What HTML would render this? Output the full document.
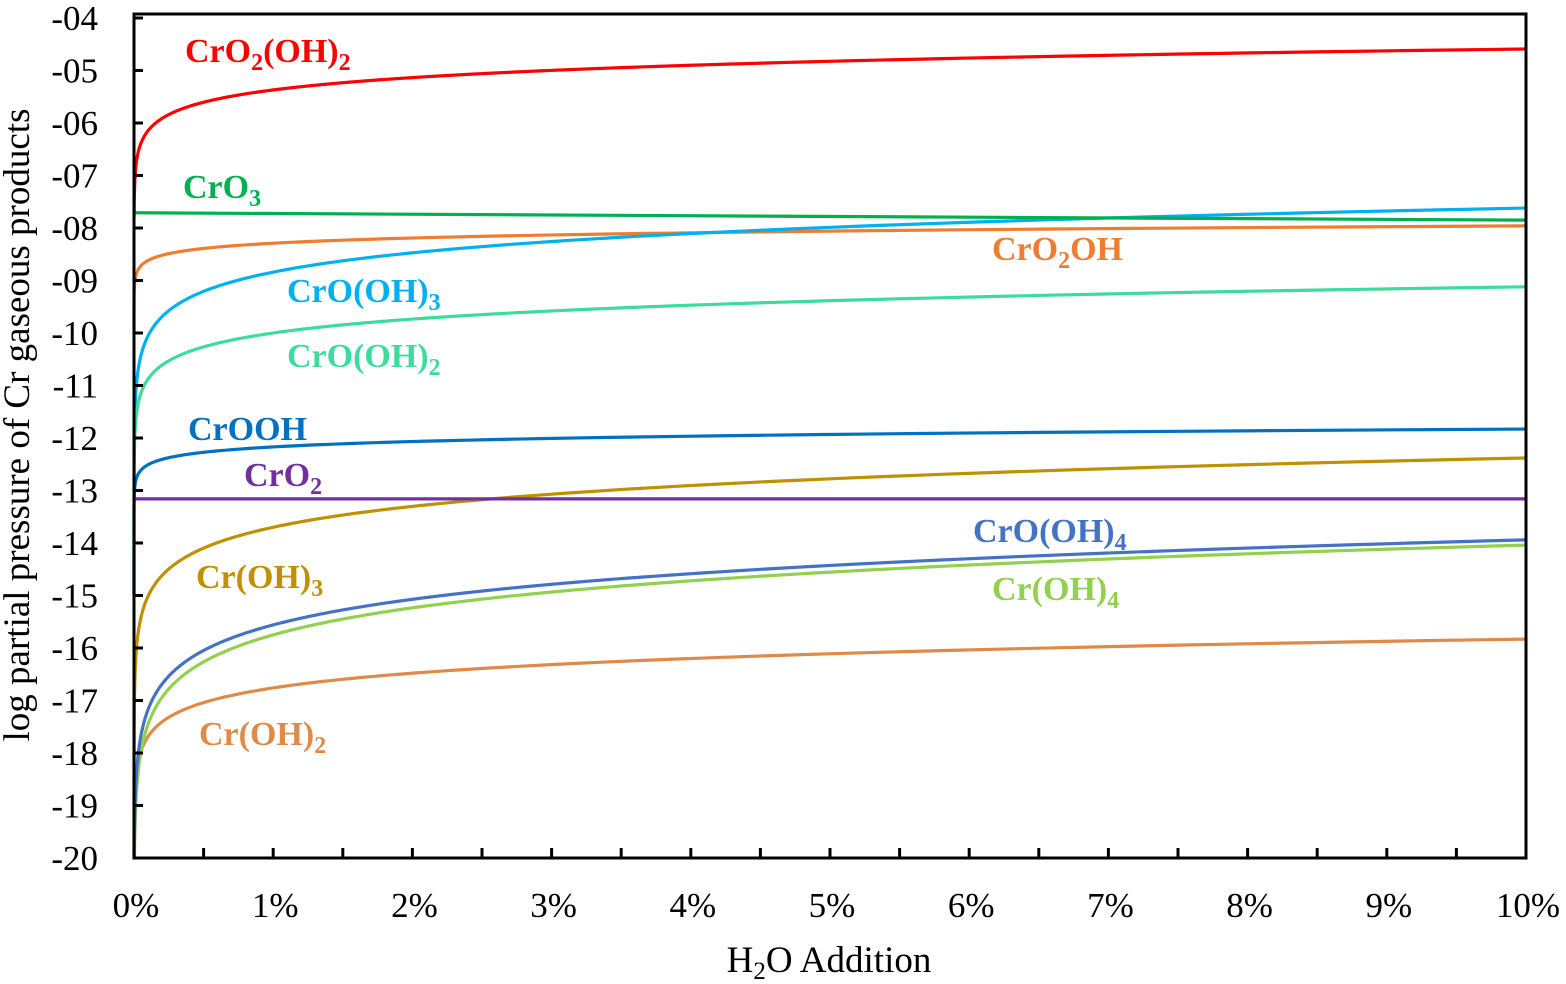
<!DOCTYPE html>
<html><head><meta charset="utf-8"><style>
html,body{margin:0;padding:0;background:#fff}
svg{display:block}
text{font-family:"Liberation Serif","Times New Roman",serif}
.lb{font-weight:bold;font-size:34px}
.tk{font-size:35px;fill:#000}
</style></head><body>
<svg id="s" width="1566" height="984" viewBox="0 0 1566 984" xmlns="http://www.w3.org/2000/svg" font-family="Liberation Serif, serif">
<g id="curves" fill="none" stroke-width="3.2"></g>
<rect x="134" y="14" width="1392" height="844" fill="none" stroke="#000" stroke-width="3"/>
<g id="ticks" stroke="#000" stroke-width="3"></g>
<g id="tl" class="tk"></g>
<text x="829" y="972" text-anchor="middle" font-size="37" font-family="Liberation Serif, serif">H<tspan font-size="25" dy="7">2</tspan><tspan dy="-7">O Addition</tspan></text>
<text transform="translate(29,425) rotate(-90)" text-anchor="middle" font-size="37" font-family="Liberation Serif, serif">log partial pressure of Cr gaseous products</text>
<text class="lb" fill="#ff0000" x="185" y="62">CrO<tspan font-size="24" dy="8">2</tspan><tspan dy="-8">(OH)</tspan><tspan font-size="24" dy="8">2</tspan></text>
<text class="lb" fill="#00b050" x="183" y="198">CrO<tspan font-size="24" dy="8">3</tspan></text>
<text class="lb" fill="#ed7d31" x="992" y="260">CrO<tspan font-size="24" dy="8">2</tspan><tspan dy="-8">OH</tspan></text>
<text class="lb" fill="#00b0f0" x="287" y="302">CrO(OH)<tspan font-size="24" dy="8">3</tspan></text>
<text class="lb" fill="#3ddc9c" x="287" y="367">CrO(OH)<tspan font-size="24" dy="8">2</tspan></text>
<text class="lb" fill="#0070c0" x="188" y="440">CrOOH</text>
<text class="lb" fill="#7030a0" x="244" y="486">CrO<tspan font-size="24" dy="8">2</tspan></text>
<text class="lb" fill="#4472c4" x="973" y="542">CrO(OH)<tspan font-size="24" dy="8">4</tspan></text>
<text class="lb" fill="#bf9000" x="196" y="588">Cr(OH)<tspan font-size="24" dy="8">3</tspan></text>
<text class="lb" fill="#92d050" x="992" y="600">Cr(OH)<tspan font-size="24" dy="8">4</tspan></text>
<text class="lb" fill="#e08a4a" x="199" y="745">Cr(OH)<tspan font-size="24" dy="8">2</tspan></text>
</svg>
<script>
var NS="http://www.w3.org/2000/svg";
function X(p){return 134+139.2*p}
function Y(v){return 18+(-4-v)*52.5}
function el(par,t,a){var e=document.createElementNS(NS,t);for(var k in a)e.setAttribute(k,a[k]);document.getElementById(par).appendChild(e);return e}
var series=[
 ["#ff0000",-4.59,-5.37,-7.8],
 ["#ed7d31",-7.96,-8.29,-10],
 ["#00b0f0",-7.62,-8.84,-15],
 ["#3ddc9c",-9.12,-10.0,-12.5],
 ["#0070c0",-11.83,-12.17,-15],
 ["#bf9000",-12.38,-13.7,-20],
 ["#e08a4a",-15.83,-16.76,-20],
 ["#92d050",-14.04,-15.75,-20],
 ["#4472c4",-13.94,-15.56,-20]
];
series.forEach(function(s){
 var B=s[1]-s[2],A=s[2];
 var lx0=(s[3]-A)/B; var d="";
 for(var i=0;i<=300;i++){
  var lx=lx0+(1-lx0)*i/300; var p=Math.pow(10,lx); var v=A+B*lx;
  d+=(i?"L":"M")+X(p).toFixed(2)+","+Y(v).toFixed(2);
 }
 el("curves","path",{d:d,stroke:s[0]});
});
el("curves","line",{x1:134,y1:Y(-7.71),x2:1526,y2:Y(-7.85),stroke:"#00b050"});
el("curves","line",{x1:134,y1:Y(-13.16),x2:1526,y2:Y(-13.16),stroke:"#7030a0"});
for(var i=0;i<=20;i++){var x=X(i/2);el("ticks","line",{x1:x,y1:858,x2:x,y2:848});}
for(var v=-4;v>=-20;v--){var y=Y(v);el("ticks","line",{x1:134,y1:y,x2:143,y2:y});
 var t=el("tl","text",{x:98,y:y+12,"text-anchor":"end","font-family":"Liberation Serif, serif"});var a=-v;t.textContent="-"+(a<10?"0"+a:a);}
for(var i=0;i<=10;i++){var t=el("tl","text",{x:X(i)+2,y:917,"text-anchor":"middle","font-family":"Liberation Serif, serif"});t.textContent=i+"%";}
</script>
</body></html>
